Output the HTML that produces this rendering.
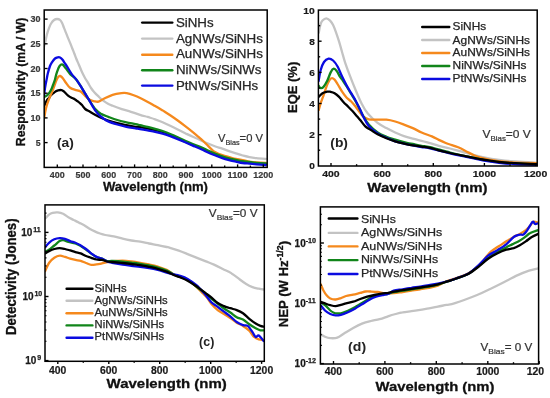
<!DOCTYPE html>
<html><head><meta charset="utf-8"><title>Photodetector performance</title>
<style>html,body{margin:0;padding:0;background:#fff;width:550px;height:398px;overflow:hidden;font-family:"Liberation Sans",sans-serif}svg{display:block;filter:blur(0.55px)}</style>
</head><body>
<svg width="550" height="398" viewBox="0 0 550 398" font-family="Liberation Sans, sans-serif">
<rect width="550" height="398" fill="#fff"/>
<defs><clipPath id="ca"><rect x="44.2" y="10" width="223" height="157.4"/></clipPath><clipPath id="cb"><rect x="318.4" y="10.1" width="218.8" height="156"/></clipPath><clipPath id="cc"><rect x="45" y="204.9" width="219.3" height="156.4"/></clipPath><clipPath id="cd"><rect x="320.4" y="206.9" width="218" height="157.1"/></clipPath></defs>
<path d="M44.2,106.0 C44.7,105.0 46.2,101.3 47.0,100.0 C47.8,98.7 48.3,98.8 49.0,98.0 C49.7,97.2 50.2,95.8 51.0,95.0 C51.8,94.2 52.9,93.6 53.6,93.0 C54.4,92.4 54.8,91.8 55.5,91.4 C56.2,91.0 57.3,90.6 58.1,90.4 C58.9,90.2 59.9,90.0 60.5,90.0 C61.1,90.0 61.4,90.0 62.0,90.3 C62.6,90.6 63.1,90.7 64.1,91.6 C65.1,92.5 66.8,94.5 68.1,95.6 C69.4,96.7 71.1,97.5 72.2,98.1 C73.3,98.7 73.9,98.7 74.7,99.2 C75.5,99.7 76.5,100.5 77.2,101.1 C78.0,101.6 78.4,101.8 79.2,102.5 C80.0,103.2 81.0,104.0 82.0,105.1 C83.0,106.2 83.9,107.9 85.2,109.0 C86.5,110.1 88.3,110.8 90.0,111.8 C91.7,112.8 93.7,114.0 95.5,115.0 C97.3,116.0 98.8,116.8 100.9,117.7 C103.0,118.6 105.5,119.6 108.2,120.5 C110.9,121.4 114.3,122.4 117.3,123.2 C120.3,124.0 123.4,124.6 126.4,125.2 C129.4,125.8 133.2,126.5 135.5,126.8 C137.8,127.1 136.7,126.7 140.0,127.2 C143.3,127.7 151.3,129.2 155.1,130.0 C158.9,130.8 160.1,131.2 162.6,132.0 C165.1,132.8 167.7,134.0 170.2,135.0 C172.7,136.0 175.2,137.1 177.7,138.2 C180.2,139.3 182.7,140.7 185.2,141.8 C187.7,142.9 190.0,143.9 192.8,145.0 C195.6,146.1 199.2,147.2 201.8,148.3 C204.4,149.4 206.3,150.6 208.6,151.6 C210.9,152.6 213.2,153.6 215.5,154.5 C217.8,155.4 220.0,156.4 222.3,157.2 C224.6,158.0 226.8,158.6 229.1,159.2 C231.4,159.8 233.6,160.2 235.9,160.7 C238.2,161.2 240.4,161.7 242.7,162.0 C245.0,162.3 247.2,162.5 249.5,162.7 C251.8,162.9 253.7,163.2 256.4,163.4 C259.1,163.6 264.3,163.9 265.9,164.0" fill="none" stroke="#000000" stroke-width="2.3" stroke-linejoin="round" stroke-linecap="round" clip-path="url(#ca)"/>
<path d="M44.2,46.0 C44.4,45.2 45.0,43.0 45.5,41.0 C46.0,39.0 46.4,36.2 47.0,34.1 C47.6,32.0 48.3,29.9 49.0,28.1 C49.7,26.3 50.2,24.9 51.1,23.5 C52.0,22.1 53.1,20.8 54.1,20.0 C55.1,19.2 56.1,19.0 57.1,19.0 C58.1,19.0 59.3,19.3 60.1,20.0 C60.9,20.7 61.4,21.6 62.1,23.0 C62.8,24.4 63.4,26.4 64.1,28.1 C64.8,29.8 65.4,31.4 66.1,33.1 C66.8,34.8 67.4,36.4 68.1,38.1 C68.8,39.8 69.5,41.4 70.2,43.1 C70.9,44.8 71.5,46.5 72.2,48.2 C72.9,49.9 73.5,51.5 74.2,53.2 C74.9,54.9 75.4,56.5 76.2,58.5 C77.0,60.5 78.0,62.6 79.0,65.0 C80.0,67.3 81.2,70.4 82.2,72.6 C83.2,74.8 84.0,76.2 85.0,78.0 C86.0,79.8 87.2,81.5 88.2,83.2 C89.2,84.9 90.0,86.5 91.0,88.0 C92.0,89.5 93.0,90.8 94.3,92.2 C95.6,93.7 97.2,95.2 98.8,96.7 C100.3,98.2 102.1,99.7 103.6,100.9 C105.1,102.1 106.5,103.0 108.0,103.8 C109.5,104.6 110.4,104.9 112.7,105.8 C115.0,106.7 118.8,108.1 121.8,109.1 C124.8,110.1 127.9,110.8 130.9,111.8 C133.9,112.8 137.2,113.9 140.0,114.8 C142.8,115.7 145.0,116.2 147.5,116.9 C150.0,117.7 152.6,118.4 155.1,119.3 C157.6,120.2 160.1,121.1 162.6,122.2 C165.1,123.3 167.7,124.5 170.2,125.7 C172.7,126.9 175.2,128.2 177.7,129.5 C180.2,130.8 182.7,132.0 185.2,133.2 C187.7,134.4 190.3,135.7 192.8,136.8 C195.3,137.9 197.4,138.8 200.0,140.0 C202.6,141.2 206.0,142.7 208.6,143.8 C211.2,144.9 213.2,145.7 215.5,146.5 C217.8,147.3 220.0,147.8 222.3,148.6 C224.6,149.4 226.8,150.3 229.1,151.1 C231.4,151.9 233.6,152.7 235.9,153.4 C238.2,154.1 240.4,154.9 242.7,155.5 C245.0,156.1 247.2,156.7 249.5,157.1 C251.8,157.5 253.7,157.9 256.4,158.2 C259.1,158.5 264.3,158.8 265.9,158.9" fill="none" stroke="#c3c3c3" stroke-width="2.3" stroke-linejoin="round" stroke-linecap="round" clip-path="url(#ca)"/>
<path d="M44.2,118.2 C44.5,116.5 45.2,111.3 46.0,108.1 C46.8,104.9 48.0,101.8 49.0,99.1 C50.0,96.4 51.0,94.6 52.0,92.1 C53.0,89.6 54.2,86.2 55.0,84.0 C55.8,81.8 56.4,80.3 57.0,79.0 C57.6,77.7 58.3,76.9 58.8,76.4 C59.3,75.9 59.4,75.7 60.0,75.9 C60.6,76.2 61.6,76.7 62.6,77.9 C63.6,79.1 64.8,81.3 66.1,83.0 C67.3,84.7 68.6,86.7 70.1,87.8 C71.6,88.9 73.4,89.2 75.2,89.8 C77.0,90.4 79.0,90.5 80.7,91.5 C82.4,92.5 83.7,94.6 85.2,96.0 C86.7,97.4 88.3,98.9 89.8,99.8 C91.3,100.7 92.8,101.0 94.3,101.3 C95.8,101.6 96.9,102.0 98.5,101.6 C100.1,101.2 101.5,99.8 103.8,98.7 C106.1,97.6 109.7,95.7 112.6,94.8 C115.5,93.9 119.1,93.4 121.4,93.1 C123.8,92.8 124.7,92.8 126.7,93.1 C128.8,93.4 131.4,94.3 133.7,95.2 C136.0,96.1 138.3,97.1 140.7,98.2 C143.0,99.3 145.4,100.6 147.8,101.9 C150.2,103.2 152.6,104.6 155.1,106.0 C157.6,107.4 160.1,108.9 162.6,110.4 C165.1,112.0 167.7,113.6 170.2,115.3 C172.7,117.0 175.2,118.7 177.7,120.5 C180.2,122.3 182.7,124.2 185.2,126.1 C187.7,128.0 190.5,130.2 192.8,132.1 C195.1,134.0 197.4,135.9 199.1,137.4 C200.8,138.9 201.8,139.7 203.2,141.0 C204.6,142.3 205.9,143.6 207.3,145.0 C208.7,146.4 210.0,148.0 211.4,149.2 C212.8,150.4 213.7,151.3 215.5,152.3 C217.3,153.3 220.0,154.4 222.3,155.2 C224.6,156.0 226.8,156.5 229.1,157.1 C231.4,157.7 233.6,158.4 235.9,158.9 C238.2,159.4 240.4,159.8 242.7,160.2 C245.0,160.6 247.2,161.2 249.5,161.6 C251.8,161.9 253.7,162.1 256.4,162.3 C259.1,162.5 264.3,162.9 265.9,163.0" fill="none" stroke="#f5891d" stroke-width="2.3" stroke-linejoin="round" stroke-linecap="round" clip-path="url(#ca)"/>
<path d="M44.2,96.7 C44.4,96.7 44.9,96.8 45.5,96.4 C46.1,96.1 47.1,95.7 48.0,94.6 C48.9,93.5 50.2,91.6 51.0,90.0 C51.8,88.4 52.3,86.8 53.0,85.0 C53.7,83.2 54.4,81.6 55.0,79.5 C55.6,77.4 56.0,74.8 56.8,72.6 C57.6,70.3 58.6,67.3 59.6,66.0 C60.6,64.7 61.6,64.2 62.6,64.6 C63.6,64.9 64.3,66.5 65.6,68.1 C66.9,69.7 68.7,72.5 70.2,74.1 C71.7,75.7 73.4,76.6 74.7,77.9 C76.0,79.2 77.0,80.6 78.0,82.0 C79.0,83.4 79.5,84.2 80.7,86.2 C81.9,88.2 83.7,91.2 85.2,93.7 C86.7,96.2 88.1,98.6 89.8,101.2 C91.5,103.8 93.7,107.2 95.5,109.3 C97.3,111.4 98.8,112.5 100.9,113.8 C103.0,115.0 105.5,115.8 108.2,116.8 C110.9,117.8 114.3,119.1 117.3,120.0 C120.3,120.9 123.4,121.6 126.4,122.3 C129.4,123.0 133.2,123.6 135.5,124.1 C137.8,124.6 138.0,124.7 140.0,125.2 C142.0,125.7 145.0,126.3 147.5,126.9 C150.0,127.5 152.6,128.1 155.1,128.8 C157.6,129.5 160.1,130.1 162.6,131.0 C165.1,131.9 167.7,132.9 170.2,134.0 C172.7,135.1 175.2,136.2 177.7,137.3 C180.2,138.4 182.7,139.7 185.2,140.8 C187.7,141.9 190.0,142.9 192.8,144.0 C195.6,145.1 199.2,146.4 201.8,147.5 C204.4,148.6 206.3,149.8 208.6,150.8 C210.9,151.8 213.2,152.8 215.5,153.7 C217.8,154.6 220.0,155.5 222.3,156.3 C224.6,157.1 226.8,157.7 229.1,158.3 C231.4,158.9 233.6,159.3 235.9,159.8 C238.2,160.3 240.4,160.8 242.7,161.2 C245.0,161.6 247.2,161.7 249.5,162.0 C251.8,162.3 253.7,162.6 256.4,162.8 C259.1,163.0 264.3,163.3 265.9,163.4" fill="none" stroke="#11851a" stroke-width="2.3" stroke-linejoin="round" stroke-linecap="round" clip-path="url(#ca)"/>
<path d="M44.2,95.0 C44.3,93.8 44.6,90.5 45.0,88.0 C45.4,85.5 46.0,82.4 46.5,80.0 C47.0,77.6 47.2,75.8 47.8,73.5 C48.4,71.2 49.3,67.9 50.0,66.0 C50.7,64.1 51.3,63.4 52.1,62.1 C52.9,60.9 54.0,59.3 55.0,58.5 C56.0,57.7 57.3,57.5 58.1,57.3 C58.9,57.1 59.2,57.1 60.0,57.5 C60.8,57.9 61.8,58.8 62.6,59.8 C63.4,60.8 64.2,62.4 65.0,63.5 C65.8,64.6 66.0,64.8 67.1,66.6 C68.2,68.4 70.2,72.0 71.7,74.1 C73.2,76.2 74.7,77.4 76.2,79.4 C77.7,81.4 79.2,83.8 80.7,86.2 C82.2,88.6 83.7,91.2 85.2,93.7 C86.7,96.2 88.5,99.2 89.8,101.3 C91.0,103.4 91.8,104.8 92.7,106.4 C93.7,108.0 94.4,109.5 95.5,110.9 C96.6,112.3 97.8,113.7 99.1,115.0 C100.4,116.3 102.1,117.5 103.6,118.6 C105.1,119.7 105.9,120.4 108.2,121.4 C110.5,122.4 114.3,123.6 117.3,124.5 C120.3,125.4 123.4,126.2 126.4,126.8 C129.4,127.4 133.2,127.9 135.5,128.3 C137.8,128.7 138.0,128.8 140.0,129.1 C142.0,129.4 145.0,129.9 147.5,130.3 C150.0,130.8 152.6,131.2 155.1,131.8 C157.6,132.4 160.1,133.0 162.6,133.7 C165.1,134.4 167.7,135.3 170.2,136.2 C172.7,137.1 175.2,138.1 177.7,139.1 C180.2,140.1 182.7,141.2 185.2,142.3 C187.7,143.4 190.0,144.4 192.8,145.6 C195.6,146.8 199.2,148.3 201.8,149.5 C204.4,150.7 206.3,151.7 208.6,152.7 C210.9,153.7 213.2,154.6 215.5,155.5 C217.8,156.4 220.0,157.4 222.3,158.2 C224.6,159.0 226.8,159.6 229.1,160.2 C231.4,160.8 233.6,161.1 235.9,161.6 C238.2,162.1 240.4,162.7 242.7,163.0 C245.0,163.3 247.2,163.4 249.5,163.6 C251.8,163.8 253.7,164.1 256.4,164.3 C259.1,164.5 264.3,164.9 265.9,165.0" fill="none" stroke="#0b0be0" stroke-width="2.3" stroke-linejoin="round" stroke-linecap="round" clip-path="url(#ca)"/>
<path d="M318.8,32.6 C319.1,31.4 319.7,27.1 320.3,25.1 C320.9,23.1 321.5,21.7 322.5,20.6 C323.5,19.5 325.0,18.3 326.3,18.3 C327.6,18.3 329.0,19.5 330.1,20.6 C331.2,21.7 332.1,23.1 333.1,25.1 C334.1,27.1 335.1,29.8 336.1,32.6 C337.1,35.4 338.1,38.4 339.1,41.7 C340.1,45.0 341.1,48.7 342.1,52.2 C343.1,55.7 343.9,59.0 345.2,62.8 C346.5,66.6 347.9,70.5 349.7,75.1 C351.4,79.7 353.7,85.4 355.7,90.2 C357.7,95.0 359.7,99.8 361.7,103.7 C363.7,107.6 365.1,110.3 367.8,113.5 C370.5,116.7 374.5,120.5 377.6,122.9 C380.7,125.3 383.5,126.5 386.4,128.1 C389.3,129.7 392.3,131.2 395.2,132.5 C398.1,133.8 401.1,135.1 404.0,136.1 C406.9,137.1 409.9,137.9 412.8,138.7 C415.7,139.5 418.7,140.1 421.6,140.8 C424.5,141.5 427.1,142.3 430.0,143.1 C432.9,143.9 435.5,144.9 438.8,145.8 C442.1,146.7 445.4,147.3 450.0,148.5 C454.6,149.7 460.9,151.6 466.4,153.0 C471.8,154.4 477.2,155.9 482.7,157.1 C488.1,158.2 493.6,159.2 499.1,159.9 C504.6,160.6 509.2,161.0 515.5,161.5 C521.8,162.0 533.2,162.6 536.7,162.8" fill="none" stroke="#c3c3c3" stroke-width="2.3" stroke-linejoin="round" stroke-linecap="round" clip-path="url(#cb)"/>
<path d="M318.8,109.8 C319.2,108.5 320.2,104.5 321.0,102.2 C321.8,99.9 322.4,98.7 323.3,96.2 C324.2,93.7 325.3,89.7 326.3,87.1 C327.3,84.5 328.4,82.0 329.3,80.5 C330.2,79.0 330.7,78.2 331.6,78.1 C332.5,77.9 333.6,78.6 334.6,79.6 C335.6,80.6 336.4,82.1 337.6,84.1 C338.9,86.1 340.6,89.4 342.1,91.7 C343.6,94.0 345.2,96.1 346.7,97.7 C348.2,99.3 349.7,100.0 351.2,101.5 C352.7,103.0 354.2,104.8 355.7,106.7 C357.2,108.6 358.9,111.1 360.2,112.8 C361.5,114.5 362.1,115.6 363.5,116.7 C364.9,117.8 366.4,118.8 368.8,119.3 C371.2,119.8 374.7,119.6 377.6,119.7 C380.5,119.8 383.5,119.4 386.4,119.7 C389.3,120.0 392.3,120.7 395.2,121.5 C398.1,122.3 401.1,123.5 404.0,124.6 C406.9,125.7 409.9,126.8 412.8,128.1 C415.7,129.4 418.4,131.1 421.6,132.5 C424.8,133.9 429.0,135.2 431.9,136.4 C434.8,137.6 436.5,138.8 438.8,139.9 C441.1,141.0 443.8,142.2 445.7,143.0 C447.6,143.8 447.9,143.8 450.0,144.5 C452.1,145.2 455.5,146.2 458.2,147.3 C460.9,148.5 463.7,150.0 466.4,151.4 C469.1,152.8 471.8,154.4 474.5,155.5 C477.2,156.6 480.0,157.5 482.7,158.2 C485.4,158.9 488.2,159.4 490.9,159.9 C493.6,160.4 496.4,160.8 499.1,161.2 C501.8,161.5 504.6,161.8 507.3,162.0 C510.0,162.2 510.6,162.4 515.5,162.6 C520.4,162.8 533.2,163.1 536.7,163.2" fill="none" stroke="#f5891d" stroke-width="2.3" stroke-linejoin="round" stroke-linecap="round" clip-path="url(#cb)"/>
<path d="M318.6,85.6 C318.9,86.0 319.5,87.7 320.3,87.9 C321.1,88.2 322.2,88.2 323.3,87.1 C324.4,86.0 325.9,83.6 327.1,81.1 C328.4,78.6 329.7,74.2 330.8,72.1 C331.9,70.0 332.8,68.8 333.8,68.7 C334.8,68.6 335.9,70.0 336.9,71.3 C337.9,72.6 339.0,75.2 339.9,76.6 C340.8,78.0 341.0,77.8 342.1,79.5 C343.2,81.2 345.2,84.1 346.7,86.5 C348.2,88.9 349.7,91.5 351.2,94.0 C352.7,96.5 354.2,98.8 355.7,101.5 C357.2,104.2 358.9,107.5 360.2,110.0 C361.5,112.5 362.1,114.1 363.5,116.5 C364.9,118.9 366.4,121.8 368.8,124.5 C371.2,127.2 374.7,130.4 377.6,132.5 C380.5,134.6 383.5,135.6 386.4,136.8 C389.3,138.0 392.3,138.7 395.2,139.6 C398.1,140.5 401.1,141.3 404.0,142.0 C406.9,142.7 409.9,143.4 412.8,144.0 C415.7,144.6 418.7,145.3 421.6,145.8 C424.5,146.3 425.3,146.0 430.0,147.1 C434.7,148.2 443.9,151.0 450.0,152.5 C456.1,154.0 460.9,155.1 466.4,156.3 C471.8,157.5 477.2,158.8 482.7,159.8 C488.1,160.8 493.6,161.6 499.1,162.2 C504.6,162.8 509.2,163.2 515.5,163.5 C521.8,163.8 533.2,164.2 536.7,164.3" fill="none" stroke="#11851a" stroke-width="2.3" stroke-linejoin="round" stroke-linecap="round" clip-path="url(#cb)"/>
<path d="M318.6,81.0 C319.0,79.2 319.8,73.2 320.7,70.0 C321.6,66.8 322.7,63.9 324.0,62.0 C325.3,60.1 327.1,58.9 328.6,58.6 C330.1,58.4 331.6,59.2 333.1,60.5 C334.6,61.8 336.1,63.8 337.6,66.5 C339.1,69.2 340.6,73.4 342.1,76.6 C343.6,79.8 345.2,82.8 346.7,85.6 C348.2,88.4 349.7,90.7 351.2,93.2 C352.7,95.7 354.2,97.9 355.7,100.7 C357.2,103.5 358.9,107.1 360.2,109.8 C361.5,112.5 362.1,114.3 363.5,117.0 C364.9,119.7 366.4,123.3 368.8,126.0 C371.2,128.7 374.7,131.4 377.6,133.4 C380.5,135.4 383.5,136.5 386.4,137.8 C389.3,139.1 392.3,140.3 395.2,141.3 C398.1,142.3 401.1,142.9 404.0,143.6 C406.9,144.3 409.9,144.8 412.8,145.4 C415.7,146.0 418.7,146.6 421.6,147.1 C424.5,147.6 425.3,147.3 430.0,148.4 C434.7,149.5 443.9,152.0 450.0,153.4 C456.1,154.8 460.9,155.8 466.4,157.0 C471.8,158.2 477.2,159.4 482.7,160.4 C488.1,161.4 493.6,162.2 499.1,162.8 C504.6,163.4 509.2,163.8 515.5,164.1 C521.8,164.4 533.2,164.7 536.7,164.8" fill="none" stroke="#0b0be0" stroke-width="2.3" stroke-linejoin="round" stroke-linecap="round" clip-path="url(#cb)"/>
<path d="M318.6,97.0 C319.2,96.4 321.1,94.1 322.5,93.2 C323.9,92.3 325.8,92.0 327.1,91.7 C328.4,91.5 328.9,91.5 330.1,91.7 C331.4,92.0 333.1,92.3 334.6,93.2 C336.1,94.1 337.6,95.4 339.1,96.9 C340.6,98.4 342.1,100.6 343.6,102.2 C345.1,103.8 346.7,105.2 348.2,106.7 C349.7,108.2 351.2,109.7 352.7,111.3 C354.2,112.9 355.9,115.0 357.2,116.5 C358.4,118.0 358.8,118.3 360.2,120.0 C361.6,121.7 363.6,124.8 365.3,126.4 C367.0,128.1 368.6,128.6 370.6,129.9 C372.7,131.2 375.0,132.9 377.6,134.3 C380.2,135.7 383.5,137.1 386.4,138.3 C389.3,139.5 392.3,140.4 395.2,141.3 C398.1,142.2 401.1,142.9 404.0,143.6 C406.9,144.3 409.9,144.9 412.8,145.4 C415.7,145.9 418.7,146.2 421.6,146.6 C424.5,147.0 427.1,147.2 430.0,147.8 C432.9,148.4 435.5,149.4 438.8,150.3 C442.1,151.2 445.4,152.0 450.0,153.0 C454.6,154.0 460.9,155.2 466.4,156.3 C471.8,157.4 477.2,158.6 482.7,159.5 C488.1,160.4 493.6,161.4 499.1,162.0 C504.6,162.6 509.2,162.8 515.5,163.2 C521.8,163.5 533.2,163.9 536.7,164.1" fill="none" stroke="#000000" stroke-width="2.3" stroke-linejoin="round" stroke-linecap="round" clip-path="url(#cb)"/>
<path d="M45.5,218.2 C46.1,217.6 47.8,215.6 49.0,214.7 C50.2,213.8 51.1,213.3 52.6,212.9 C54.1,212.5 56.0,212.2 57.8,212.4 C59.5,212.6 61.3,213.0 63.1,213.8 C64.9,214.6 66.6,216.3 68.4,217.3 C70.2,218.3 72.0,219.1 73.7,220.0 C75.5,220.9 77.2,221.7 78.9,222.6 C80.7,223.5 82.4,224.2 84.2,225.2 C86.0,226.2 87.7,227.7 89.5,228.7 C91.3,229.7 93.0,230.6 94.8,231.4 C96.5,232.2 98.2,232.9 100.0,233.5 C101.8,234.1 103.0,234.5 105.3,235.0 C107.6,235.5 110.9,235.8 113.8,236.4 C116.7,237.0 119.7,238.0 122.6,238.7 C125.5,239.4 128.5,240.0 131.4,240.5 C134.3,241.0 137.3,241.2 140.2,241.7 C143.1,242.2 146.1,242.9 149.0,243.5 C151.9,244.1 154.9,244.6 157.8,245.2 C160.7,245.8 164.6,246.6 166.6,247.0 C168.6,247.4 168.0,247.2 170.0,247.8 C172.0,248.4 175.9,249.6 178.8,250.6 C181.7,251.6 184.7,252.9 187.6,254.1 C190.5,255.3 193.5,256.4 196.4,257.6 C199.3,258.8 202.3,259.9 205.2,261.1 C208.1,262.3 211.1,263.3 214.0,264.6 C216.9,265.9 219.9,267.5 222.8,269.0 C225.7,270.5 228.8,271.6 231.6,273.4 C234.4,275.1 237.4,277.7 239.8,279.5 C242.2,281.3 244.1,282.7 246.2,284.0 C248.3,285.3 250.4,286.3 252.5,287.1 C254.6,287.9 256.9,288.3 258.8,288.7 C260.7,289.1 262.8,289.4 263.6,289.5" fill="none" stroke="#c3c3c3" stroke-width="2.3" stroke-linejoin="round" stroke-linecap="round" clip-path="url(#cc)"/>
<path d="M45.2,271.0 C45.8,269.7 47.5,265.2 49.0,263.0 C50.5,260.8 52.5,259.0 54.3,257.8 C56.1,256.6 57.8,255.8 59.6,255.7 C61.4,255.5 63.2,256.4 64.9,256.9 C66.7,257.4 68.3,258.1 70.1,258.6 C71.8,259.1 73.6,259.5 75.4,259.9 C77.2,260.3 78.9,260.4 80.7,260.9 C82.5,261.4 84.2,262.4 86.0,263.0 C87.8,263.6 89.5,264.6 91.2,264.8 C93.0,265.0 94.7,264.6 96.5,264.4 C98.3,264.2 100.0,263.8 101.8,263.4 C103.6,263.0 105.4,262.6 107.1,262.2 C108.8,261.8 109.4,261.5 112.0,261.2 C114.6,260.9 119.4,260.6 122.6,260.6 C125.8,260.6 128.5,261.0 131.4,261.4 C134.3,261.8 137.3,262.3 140.2,262.8 C143.1,263.3 146.1,263.9 149.0,264.5 C151.9,265.1 154.9,265.7 157.8,266.6 C160.7,267.5 163.7,268.4 166.6,269.8 C169.5,271.2 171.5,273.4 175.0,275.1 C178.5,276.8 184.0,277.8 187.6,279.8 C191.2,281.8 193.8,284.7 196.4,287.0 C199.0,289.3 201.2,291.8 203.0,293.5 C204.8,295.2 205.6,295.8 207.0,297.5 C208.4,299.2 209.5,301.6 211.3,303.7 C213.1,305.8 215.6,308.4 217.7,310.1 C219.8,311.8 221.9,312.7 224.0,314.0 C226.1,315.3 228.2,316.6 230.3,318.0 C232.4,319.4 234.6,321.4 236.7,322.7 C238.8,324.0 240.9,324.6 243.0,325.9 C245.1,327.2 247.5,328.8 249.3,330.7 C251.2,332.6 252.5,335.6 254.1,337.0 C255.7,338.4 257.2,338.9 258.8,339.4 C260.4,339.9 262.8,339.7 263.6,339.8" fill="none" stroke="#f5891d" stroke-width="2.3" stroke-linejoin="round" stroke-linecap="round" clip-path="url(#cc)"/>
<path d="M45.2,251.6 C45.8,251.3 47.5,250.8 49.0,249.8 C50.5,248.8 52.5,246.9 54.3,245.5 C56.1,244.1 58.1,242.0 59.6,241.1 C61.1,240.2 61.6,240.1 63.1,240.2 C64.6,240.3 66.4,241.3 68.4,241.9 C70.5,242.5 73.4,242.8 75.4,243.5 C77.5,244.2 78.9,245.0 80.7,246.0 C82.5,247.0 84.2,248.2 86.0,249.5 C87.8,250.8 89.5,252.3 91.2,253.6 C93.0,254.8 94.7,256.2 96.5,257.0 C98.3,257.8 100.0,257.9 101.8,258.6 C103.6,259.3 105.4,260.6 107.1,261.0 C108.8,261.4 109.4,260.9 112.0,261.0 C114.6,261.1 119.4,261.3 122.6,261.6 C125.8,261.9 128.5,262.2 131.4,262.6 C134.3,263.0 137.3,263.3 140.2,263.8 C143.1,264.3 146.1,264.9 149.0,265.5 C151.9,266.1 154.9,266.7 157.8,267.5 C160.7,268.3 163.7,269.2 166.6,270.5 C169.5,271.8 171.5,273.4 175.0,275.0 C178.5,276.6 184.0,277.9 187.6,279.8 C191.2,281.7 193.5,284.4 196.4,286.6 C199.3,288.8 202.5,291.2 205.0,293.2 C207.5,295.2 209.2,296.8 211.3,298.5 C213.4,300.2 215.6,301.8 217.7,303.5 C219.8,305.2 221.9,307.0 224.0,308.5 C226.1,310.0 228.2,311.1 230.3,312.5 C232.4,313.9 234.6,316.0 236.7,317.2 C238.8,318.4 240.9,318.4 243.0,319.6 C245.1,320.8 247.2,322.9 249.3,324.3 C251.4,325.8 253.8,327.3 255.7,328.3 C257.5,329.3 259.1,330.0 260.4,330.3 C261.7,330.6 263.1,330.3 263.6,330.3" fill="none" stroke="#11851a" stroke-width="2.3" stroke-linejoin="round" stroke-linecap="round" clip-path="url(#cc)"/>
<path d="M45.2,247.2 C45.8,246.5 47.5,244.1 49.0,242.8 C50.5,241.5 52.5,240.1 54.3,239.3 C56.1,238.5 57.8,238.2 59.6,238.1 C61.4,238.0 63.2,238.3 64.9,238.8 C66.7,239.3 68.3,240.4 70.1,241.1 C71.8,241.8 73.6,242.1 75.4,242.8 C77.2,243.5 78.9,244.5 80.7,245.5 C82.5,246.5 84.2,247.7 86.0,249.0 C87.8,250.3 89.5,252.1 91.2,253.4 C93.0,254.7 94.7,256.0 96.5,256.9 C98.3,257.8 100.0,257.8 101.8,258.6 C103.6,259.4 105.4,260.8 107.1,261.5 C108.8,262.2 109.4,262.3 112.0,262.8 C114.6,263.3 119.4,264.1 122.6,264.6 C125.8,265.1 128.5,265.4 131.4,265.8 C134.3,266.2 137.3,266.4 140.2,266.8 C143.1,267.2 146.1,267.7 149.0,268.2 C151.9,268.7 154.9,269.3 157.8,270.0 C160.7,270.7 163.7,271.8 166.6,272.6 C169.5,273.4 172.8,274.1 175.0,274.6 C177.2,275.1 177.9,275.1 180.0,275.8 C182.1,276.5 184.9,277.4 187.6,279.0 C190.3,280.6 193.5,282.7 196.4,285.2 C199.3,287.7 202.5,291.4 205.0,294.2 C207.5,297.0 209.2,300.1 211.3,302.2 C213.4,304.3 215.6,305.3 217.7,306.9 C219.8,308.5 221.9,310.1 224.0,311.7 C226.1,313.3 228.2,314.7 230.3,316.4 C232.4,318.1 234.6,320.6 236.7,322.0 C238.8,323.4 241.2,324.5 243.0,325.1 C244.8,325.8 246.1,324.7 247.7,325.9 C249.3,327.1 251.2,330.3 252.5,332.2 C253.8,334.1 254.6,336.5 255.7,337.0 C256.8,337.5 257.5,334.7 258.8,335.4 C260.1,336.1 262.8,340.1 263.6,341.0" fill="none" stroke="#0b0be0" stroke-width="2.3" stroke-linejoin="round" stroke-linecap="round" clip-path="url(#cc)"/>
<path d="M45.2,253.4 C45.8,253.0 47.5,251.8 49.0,251.1 C50.5,250.4 52.5,249.5 54.3,249.0 C56.1,248.5 57.8,248.1 59.6,248.1 C61.4,248.1 63.2,248.6 64.9,249.0 C66.7,249.4 68.3,249.9 70.1,250.4 C71.8,250.9 73.6,251.6 75.4,252.1 C77.2,252.6 78.9,252.8 80.7,253.4 C82.5,254.1 84.2,255.3 86.0,256.0 C87.8,256.7 89.5,257.2 91.2,257.8 C93.0,258.4 94.7,259.1 96.5,259.5 C98.3,259.9 100.0,259.6 101.8,259.9 C103.6,260.2 105.4,261.1 107.1,261.5 C108.8,261.9 109.4,261.8 112.0,262.0 C114.6,262.2 119.4,262.7 122.6,263.0 C125.8,263.3 128.5,263.6 131.4,264.0 C134.3,264.4 137.3,264.7 140.2,265.2 C143.1,265.7 146.1,266.2 149.0,266.8 C151.9,267.4 154.9,268.0 157.8,268.8 C160.7,269.6 163.7,270.5 166.6,271.6 C169.5,272.7 172.8,274.6 175.0,275.5 C177.2,276.4 177.9,276.3 180.0,277.2 C182.1,278.1 184.9,279.2 187.6,280.7 C190.3,282.2 193.5,284.2 196.4,286.2 C199.3,288.2 202.5,290.8 205.0,292.7 C207.5,294.6 209.2,295.7 211.3,297.4 C213.4,299.1 215.6,301.6 217.7,303.0 C219.8,304.4 221.9,305.2 224.0,306.1 C226.1,307.0 228.2,307.5 230.3,308.2 C232.4,308.9 234.6,309.3 236.7,310.1 C238.8,310.9 240.9,311.8 243.0,313.2 C245.1,314.6 247.2,317.1 249.3,318.8 C251.4,320.5 253.8,322.3 255.7,323.5 C257.5,324.7 259.1,325.4 260.4,325.9 C261.7,326.4 263.1,326.6 263.6,326.7" fill="none" stroke="#000000" stroke-width="2.3" stroke-linejoin="round" stroke-linecap="round" clip-path="url(#cc)"/>
<path d="M320.6,334.2 C321.3,334.6 323.4,336.1 325.0,336.8 C326.6,337.5 328.2,338.1 330.3,338.2 C332.4,338.3 335.0,338.5 337.3,337.7 C339.6,336.9 341.8,334.9 344.4,333.3 C347.0,331.7 350.3,329.6 353.2,328.0 C356.1,326.4 359.1,324.8 362.0,323.6 C364.9,322.4 367.9,321.7 370.8,321.0 C373.7,320.3 376.7,320.0 379.6,319.2 C382.5,318.4 385.6,317.1 388.0,316.3 C390.4,315.5 391.4,315.1 393.8,314.5 C396.2,313.9 399.7,312.9 402.6,312.4 C405.5,311.8 408.5,311.6 411.4,311.2 C414.3,310.8 417.3,310.3 420.2,309.8 C423.1,309.3 426.1,308.9 429.0,308.4 C431.9,307.9 434.9,307.2 437.8,306.6 C440.7,306.0 443.7,305.5 446.6,304.9 C449.5,304.3 449.9,304.8 455.0,303.1 C460.1,301.5 471.2,297.4 477.1,295.0 C483.1,292.6 486.2,290.9 490.7,288.7 C495.2,286.5 499.8,284.2 504.3,281.9 C508.8,279.6 513.7,277.0 517.8,275.1 C521.9,273.2 525.7,271.7 529.1,270.6 C532.5,269.5 536.7,268.7 538.2,268.3" fill="none" stroke="#c3c3c3" stroke-width="2.3" stroke-linejoin="round" stroke-linecap="round" clip-path="url(#cd)"/>
<path d="M320.6,284.1 C321.1,285.1 322.3,288.3 323.3,290.2 C324.3,292.1 325.6,294.1 326.8,295.5 C328.0,296.9 328.8,297.8 330.3,298.5 C331.8,299.2 333.8,299.6 335.6,299.5 C337.4,299.4 339.1,298.7 340.9,298.1 C342.6,297.5 344.1,296.6 346.1,296.0 C348.2,295.4 350.9,295.1 353.2,294.6 C355.5,294.1 358.1,293.4 360.2,292.9 C362.2,292.4 363.7,291.7 365.5,291.5 C367.3,291.3 368.8,291.4 370.8,291.5 C372.9,291.6 375.4,291.7 377.8,292.0 C380.2,292.3 382.3,293.1 385.0,293.3 C387.7,293.5 390.9,293.4 393.8,293.2 C396.7,293.0 399.7,292.4 402.6,292.0 C405.5,291.6 408.5,291.1 411.4,290.6 C414.3,290.2 417.3,289.8 420.2,289.3 C423.1,288.9 426.1,288.5 429.0,287.9 C431.9,287.3 434.9,286.7 437.8,285.6 C440.7,284.5 443.7,282.4 446.6,281.2 C449.5,280.0 451.4,279.8 455.0,278.5 C458.6,277.2 464.4,275.4 468.1,273.5 C471.8,271.6 474.5,269.2 477.1,267.0 C479.7,264.8 481.5,262.6 483.6,260.2 C485.7,257.8 487.6,254.7 489.6,252.7 C491.6,250.7 493.6,249.6 495.6,248.2 C497.6,246.8 499.7,245.7 501.7,244.4 C503.7,243.1 505.7,241.8 507.7,240.6 C509.7,239.3 511.7,238.0 513.7,236.9 C515.7,235.8 517.8,235.0 519.8,233.9 C521.8,232.8 524.0,231.5 525.8,230.1 C527.5,228.7 529.0,227.0 530.3,225.6 C531.5,224.2 532.0,222.3 533.3,221.8 C534.6,221.3 537.4,222.4 538.2,222.5" fill="none" stroke="#f5891d" stroke-width="2.3" stroke-linejoin="round" stroke-linecap="round" clip-path="url(#cd)"/>
<path d="M320.6,302.5 C321.3,302.9 323.4,303.9 325.0,305.2 C326.6,306.5 328.8,309.2 330.3,310.5 C331.8,311.8 332.6,312.2 333.8,312.7 C335.0,313.2 336.1,313.3 337.3,313.4 C338.5,313.5 339.1,313.7 340.9,313.3 C342.7,312.9 345.6,311.8 347.9,310.8 C350.2,309.8 352.5,308.6 354.9,307.3 C357.2,306.0 359.6,304.4 362.0,303.0 C364.4,301.6 366.7,299.9 369.0,298.7 C371.3,297.5 373.6,296.4 376.0,295.7 C378.4,294.9 381.1,294.5 383.1,294.2 C385.1,293.9 386.2,294.1 388.0,293.8 C389.8,293.5 391.4,292.6 393.8,292.1 C396.2,291.6 399.7,291.2 402.6,290.7 C405.5,290.2 408.5,289.8 411.4,289.3 C414.3,288.9 417.3,288.4 420.2,288.0 C423.1,287.6 426.1,287.2 429.0,286.6 C431.9,286.1 434.9,285.5 437.8,284.7 C440.7,283.9 443.7,282.6 446.6,281.7 C449.5,280.8 451.4,280.3 455.0,279.0 C458.6,277.7 464.4,276.0 468.1,274.0 C471.8,272.0 473.8,269.8 477.1,267.2 C480.4,264.6 484.7,260.7 488.0,258.2 C491.3,255.7 494.1,253.8 497.1,252.0 C500.1,250.2 503.7,248.7 506.2,247.4 C508.7,246.1 510.2,245.4 512.2,244.4 C514.2,243.4 516.3,242.5 518.3,241.4 C520.3,240.3 522.3,239.0 524.3,237.6 C526.3,236.2 528.0,234.3 530.3,233.1 C532.6,231.8 536.9,230.6 538.2,230.1" fill="none" stroke="#11851a" stroke-width="2.3" stroke-linejoin="round" stroke-linecap="round" clip-path="url(#cd)"/>
<path d="M320.6,305.2 C321.3,306.1 323.4,309.0 325.0,310.5 C326.6,312.0 328.5,313.2 330.3,314.0 C332.1,314.8 333.8,315.3 335.6,315.4 C337.4,315.5 338.8,315.3 340.9,314.8 C342.9,314.3 345.6,313.2 347.9,312.2 C350.2,311.2 352.5,310.0 354.9,308.7 C357.2,307.4 359.6,305.8 362.0,304.3 C364.4,302.8 366.7,301.2 369.0,299.9 C371.3,298.6 373.6,297.5 376.0,296.7 C378.4,295.9 381.1,295.4 383.1,295.0 C385.1,294.6 386.2,294.7 388.0,294.0 C389.8,293.3 391.4,291.5 393.8,290.7 C396.2,289.9 399.7,289.8 402.6,289.3 C405.5,288.8 408.5,288.3 411.4,287.9 C414.3,287.4 417.3,287.1 420.2,286.6 C423.1,286.2 426.1,285.7 429.0,285.2 C431.9,284.7 434.9,284.2 437.8,283.6 C440.7,283.0 443.7,282.3 446.6,281.5 C449.5,280.7 451.4,280.1 455.0,278.8 C458.6,277.5 464.1,276.1 468.1,273.8 C472.1,271.5 475.7,267.8 479.0,264.8 C482.3,261.8 485.1,258.1 488.1,255.7 C491.1,253.3 494.1,252.3 497.1,250.4 C500.1,248.5 503.7,246.4 506.2,244.4 C508.7,242.4 510.7,239.8 512.2,238.4 C513.7,237.0 513.9,236.7 515.2,236.1 C516.5,235.5 518.4,234.8 519.8,234.6 C521.2,234.3 522.2,235.3 523.5,234.6 C524.8,233.8 525.8,232.2 527.3,230.1 C528.8,228.0 531.3,222.8 532.6,221.8 C533.9,220.8 534.0,223.8 534.9,224.0 C535.8,224.2 537.7,223.4 538.2,223.3" fill="none" stroke="#0b0be0" stroke-width="2.3" stroke-linejoin="round" stroke-linecap="round" clip-path="url(#cd)"/>
<path d="M320.6,301.7 C321.3,302.0 323.4,302.8 325.0,303.4 C326.6,304.0 328.5,304.8 330.3,305.2 C332.1,305.6 333.8,306.2 335.6,306.1 C337.4,306.0 339.1,305.2 340.9,304.8 C342.6,304.4 344.1,303.9 346.1,303.4 C348.2,302.9 350.9,302.4 353.2,301.7 C355.5,301.0 357.9,299.8 360.2,299.0 C362.5,298.2 364.8,297.4 367.2,296.7 C369.6,296.0 371.9,295.5 374.3,295.0 C376.7,294.5 379.0,294.1 381.3,293.7 C383.6,293.3 385.9,293.2 388.0,292.9 C390.1,292.5 391.4,292.1 393.8,291.6 C396.2,291.2 399.7,290.7 402.6,290.2 C405.5,289.7 408.5,289.2 411.4,288.8 C414.3,288.4 417.3,287.9 420.2,287.5 C423.1,287.1 426.1,286.6 429.0,286.1 C431.9,285.6 434.9,285.0 437.8,284.3 C440.7,283.6 443.7,282.6 446.6,281.7 C449.5,280.8 451.4,280.3 455.0,279.0 C458.6,277.7 464.1,276.1 468.1,274.0 C472.1,271.9 475.7,268.9 479.0,266.3 C482.3,263.8 485.1,260.8 488.1,258.7 C491.1,256.6 494.1,255.0 497.1,253.5 C500.1,252.0 503.4,250.6 506.2,249.7 C509.0,248.8 511.4,248.9 513.7,248.2 C516.0,247.4 517.8,246.3 519.8,245.2 C521.8,244.1 523.8,242.8 525.8,241.4 C527.8,240.0 529.7,238.2 531.8,236.9 C533.9,235.7 537.1,234.4 538.2,233.9" fill="none" stroke="#000000" stroke-width="2.3" stroke-linejoin="round" stroke-linecap="round" clip-path="url(#cd)"/>
<rect x="44.2" y="10" width="223.0" height="157.4" fill="none" stroke="#000" stroke-width="1.5"/>
<line x1="57.3" y1="167.4" x2="57.3" y2="164.4" stroke="#000" stroke-width="1.35"/>
<line x1="70.2" y1="167.4" x2="70.2" y2="165.6" stroke="#000" stroke-width="1.35"/>
<line x1="83.0" y1="167.4" x2="83.0" y2="164.4" stroke="#000" stroke-width="1.35"/>
<line x1="95.9" y1="167.4" x2="95.9" y2="165.6" stroke="#000" stroke-width="1.35"/>
<line x1="108.8" y1="167.4" x2="108.8" y2="164.4" stroke="#000" stroke-width="1.35"/>
<line x1="121.7" y1="167.4" x2="121.7" y2="165.6" stroke="#000" stroke-width="1.35"/>
<line x1="134.6" y1="167.4" x2="134.6" y2="164.4" stroke="#000" stroke-width="1.35"/>
<line x1="147.4" y1="167.4" x2="147.4" y2="165.6" stroke="#000" stroke-width="1.35"/>
<line x1="160.3" y1="167.4" x2="160.3" y2="164.4" stroke="#000" stroke-width="1.35"/>
<line x1="173.2" y1="167.4" x2="173.2" y2="165.6" stroke="#000" stroke-width="1.35"/>
<line x1="186.1" y1="167.4" x2="186.1" y2="164.4" stroke="#000" stroke-width="1.35"/>
<line x1="198.9" y1="167.4" x2="198.9" y2="165.6" stroke="#000" stroke-width="1.35"/>
<line x1="211.8" y1="167.4" x2="211.8" y2="164.4" stroke="#000" stroke-width="1.35"/>
<line x1="224.7" y1="167.4" x2="224.7" y2="165.6" stroke="#000" stroke-width="1.35"/>
<line x1="237.6" y1="167.4" x2="237.6" y2="164.4" stroke="#000" stroke-width="1.35"/>
<line x1="250.4" y1="167.4" x2="250.4" y2="165.6" stroke="#000" stroke-width="1.35"/>
<line x1="263.3" y1="167.4" x2="263.3" y2="164.4" stroke="#000" stroke-width="1.35"/>
<text x="49.8" y="178.3" font-size="9" font-weight="bold" fill="#3a3a3a" stroke="#3a3a3a" stroke-width="0.2" textLength="14.9" lengthAdjust="spacingAndGlyphs">400</text>
<text x="75.6" y="178.3" font-size="9" font-weight="bold" fill="#3a3a3a" stroke="#3a3a3a" stroke-width="0.2" textLength="14.9" lengthAdjust="spacingAndGlyphs">500</text>
<text x="101.3" y="178.3" font-size="9" font-weight="bold" fill="#3a3a3a" stroke="#3a3a3a" stroke-width="0.2" textLength="14.9" lengthAdjust="spacingAndGlyphs">600</text>
<text x="127.1" y="178.3" font-size="9" font-weight="bold" fill="#3a3a3a" stroke="#3a3a3a" stroke-width="0.2" textLength="14.9" lengthAdjust="spacingAndGlyphs">700</text>
<text x="152.8" y="178.3" font-size="9" font-weight="bold" fill="#3a3a3a" stroke="#3a3a3a" stroke-width="0.2" textLength="14.9" lengthAdjust="spacingAndGlyphs">800</text>
<text x="178.6" y="178.3" font-size="9" font-weight="bold" fill="#3a3a3a" stroke="#3a3a3a" stroke-width="0.2" textLength="14.9" lengthAdjust="spacingAndGlyphs">900</text>
<text x="201.8" y="178.3" font-size="9" font-weight="bold" fill="#3a3a3a" stroke="#3a3a3a" stroke-width="0.2" textLength="20.0" lengthAdjust="spacingAndGlyphs">1000</text>
<text x="227.6" y="178.3" font-size="9" font-weight="bold" fill="#3a3a3a" stroke="#3a3a3a" stroke-width="0.2" textLength="20.0" lengthAdjust="spacingAndGlyphs">1100</text>
<text x="253.3" y="178.3" font-size="9" font-weight="bold" fill="#3a3a3a" stroke="#3a3a3a" stroke-width="0.2" textLength="20.0" lengthAdjust="spacingAndGlyphs">1200</text>
<line x1="44.2" y1="142.6" x2="47.6" y2="142.6" stroke="#000" stroke-width="1.35"/>
<text x="35.7" y="145.8" font-size="9" font-weight="bold" fill="#3a3a3a" stroke="#3a3a3a" stroke-width="0.2" textLength="4.9" lengthAdjust="spacingAndGlyphs">5</text>
<line x1="44.2" y1="117.9" x2="47.6" y2="117.9" stroke="#000" stroke-width="1.35"/>
<text x="30.6" y="121.1" font-size="9" font-weight="bold" fill="#3a3a3a" stroke="#3a3a3a" stroke-width="0.2" textLength="10.0" lengthAdjust="spacingAndGlyphs">10</text>
<line x1="44.2" y1="93.2" x2="47.6" y2="93.2" stroke="#000" stroke-width="1.35"/>
<text x="30.6" y="96.4" font-size="9" font-weight="bold" fill="#3a3a3a" stroke="#3a3a3a" stroke-width="0.2" textLength="10.0" lengthAdjust="spacingAndGlyphs">15</text>
<line x1="44.2" y1="68.5" x2="47.6" y2="68.5" stroke="#000" stroke-width="1.35"/>
<text x="30.6" y="71.7" font-size="9" font-weight="bold" fill="#3a3a3a" stroke="#3a3a3a" stroke-width="0.2" textLength="10.0" lengthAdjust="spacingAndGlyphs">20</text>
<line x1="44.2" y1="43.8" x2="47.6" y2="43.8" stroke="#000" stroke-width="1.35"/>
<text x="30.6" y="47.0" font-size="9" font-weight="bold" fill="#3a3a3a" stroke="#3a3a3a" stroke-width="0.2" textLength="10.0" lengthAdjust="spacingAndGlyphs">25</text>
<line x1="44.2" y1="19.1" x2="47.6" y2="19.1" stroke="#000" stroke-width="1.35"/>
<text x="30.6" y="22.3" font-size="9" font-weight="bold" fill="#3a3a3a" stroke="#3a3a3a" stroke-width="0.2" textLength="10.0" lengthAdjust="spacingAndGlyphs">30</text>
<text x="102.9" y="190.5" font-size="13.2" font-weight="bold" fill="#111" textLength="105.0" lengthAdjust="spacingAndGlyphs" stroke="#111" stroke-width="0.3">Wavelength (nm)</text>
<text x="0" y="0" font-size="12.2" font-weight="bold" fill="#111" stroke="#111" stroke-width="0.3" textLength="128.6" lengthAdjust="spacingAndGlyphs" transform="translate(24.6,146.2) scale(1.1,1) rotate(-90)">Responsivity (mA / W)</text>
<text x="57.0" y="147.3" font-size="13" font-weight="bold" fill="#222" textLength="16.8" lengthAdjust="spacingAndGlyphs" >(a)</text>
<text x="218" y="141.8" font-size="10.5" fill="#333" stroke="#333" stroke-width="0.2" textLength="45" lengthAdjust="spacingAndGlyphs">V<tspan font-size="6.8" dy="2.7">Bias</tspan><tspan dy="-2.7">=0 V</tspan></text>
<line x1="142.2" y1="22.6" x2="172.3" y2="22.6" stroke="#000000" stroke-width="2.4" stroke-linecap="round"/>
<text x="175.9" y="26.9" font-size="12.2" font-weight="normal" fill="#262626" textLength="37.7" lengthAdjust="spacingAndGlyphs" stroke="#262626" stroke-width="0.25">SiNHs</text>
<line x1="142.2" y1="38.6" x2="172.3" y2="38.6" stroke="#c3c3c3" stroke-width="2.4" stroke-linecap="round"/>
<text x="175.9" y="42.6" font-size="12.2" font-weight="normal" fill="#262626" textLength="87.0" lengthAdjust="spacingAndGlyphs" stroke="#262626" stroke-width="0.25">AgNWs/SiNHs</text>
<line x1="142.2" y1="54.7" x2="172.3" y2="54.7" stroke="#f5891d" stroke-width="2.4" stroke-linecap="round"/>
<text x="175.9" y="58.2" font-size="12.2" font-weight="normal" fill="#262626" textLength="87.0" lengthAdjust="spacingAndGlyphs" stroke="#262626" stroke-width="0.25">AuNWs/SiNHs</text>
<line x1="142.2" y1="70.3" x2="172.3" y2="70.3" stroke="#11851a" stroke-width="2.4" stroke-linecap="round"/>
<text x="175.9" y="73.9" font-size="12.2" font-weight="normal" fill="#262626" textLength="85.6" lengthAdjust="spacingAndGlyphs" stroke="#262626" stroke-width="0.25">NiNWs/SiNWs</text>
<line x1="142.2" y1="85.6" x2="172.3" y2="85.6" stroke="#0b0be0" stroke-width="2.4" stroke-linecap="round"/>
<text x="175.9" y="89.5" font-size="12.2" font-weight="normal" fill="#262626" textLength="82.2" lengthAdjust="spacingAndGlyphs" stroke="#262626" stroke-width="0.25">PtNWs/SiNHs</text>
<rect x="318.4" y="10.1" width="218.80000000000007" height="155.9" fill="none" stroke="#000" stroke-width="1.5"/>
<line x1="331.0" y1="166.0" x2="331.0" y2="163.0" stroke="#000" stroke-width="1.35"/>
<line x1="356.6" y1="166.0" x2="356.6" y2="164.2" stroke="#000" stroke-width="1.35"/>
<line x1="382.1" y1="166.0" x2="382.1" y2="163.0" stroke="#000" stroke-width="1.35"/>
<line x1="407.7" y1="166.0" x2="407.7" y2="164.2" stroke="#000" stroke-width="1.35"/>
<line x1="433.3" y1="166.0" x2="433.3" y2="163.0" stroke="#000" stroke-width="1.35"/>
<line x1="458.9" y1="166.0" x2="458.9" y2="164.2" stroke="#000" stroke-width="1.35"/>
<line x1="484.4" y1="166.0" x2="484.4" y2="163.0" stroke="#000" stroke-width="1.35"/>
<line x1="510.0" y1="166.0" x2="510.0" y2="164.2" stroke="#000" stroke-width="1.35"/>
<line x1="535.6" y1="166.0" x2="535.6" y2="163.0" stroke="#000" stroke-width="1.35"/>
<text x="322.2" y="177.3" font-size="9.4" font-weight="bold" fill="#1a1a1a" stroke="#1a1a1a" stroke-width="0.2" textLength="17.5" lengthAdjust="spacingAndGlyphs">400</text>
<text x="373.4" y="177.3" font-size="9.4" font-weight="bold" fill="#1a1a1a" stroke="#1a1a1a" stroke-width="0.2" textLength="17.5" lengthAdjust="spacingAndGlyphs">600</text>
<text x="424.5" y="177.3" font-size="9.4" font-weight="bold" fill="#1a1a1a" stroke="#1a1a1a" stroke-width="0.2" textLength="17.5" lengthAdjust="spacingAndGlyphs">800</text>
<text x="472.7" y="177.3" font-size="9.4" font-weight="bold" fill="#1a1a1a" stroke="#1a1a1a" stroke-width="0.2" textLength="23.4" lengthAdjust="spacingAndGlyphs">1000</text>
<text x="523.9" y="177.3" font-size="9.4" font-weight="bold" fill="#1a1a1a" stroke="#1a1a1a" stroke-width="0.2" textLength="23.4" lengthAdjust="spacingAndGlyphs">1200</text>
<line x1="318.4" y1="150.2" x2="320.2" y2="150.2" stroke="#000" stroke-width="1.35"/>
<line x1="318.4" y1="134.7" x2="321.6" y2="134.7" stroke="#000" stroke-width="1.35"/>
<line x1="318.4" y1="119.1" x2="320.2" y2="119.1" stroke="#000" stroke-width="1.35"/>
<line x1="318.4" y1="103.5" x2="321.6" y2="103.5" stroke="#000" stroke-width="1.35"/>
<line x1="318.4" y1="88.0" x2="320.2" y2="88.0" stroke="#000" stroke-width="1.35"/>
<line x1="318.4" y1="72.4" x2="321.6" y2="72.4" stroke="#000" stroke-width="1.35"/>
<line x1="318.4" y1="56.8" x2="320.2" y2="56.8" stroke="#000" stroke-width="1.35"/>
<line x1="318.4" y1="41.2" x2="321.6" y2="41.2" stroke="#000" stroke-width="1.35"/>
<line x1="318.4" y1="25.7" x2="320.2" y2="25.7" stroke="#000" stroke-width="1.35"/>
<text x="309.2" y="169.3" font-size="9.8" font-weight="bold" fill="#1a1a1a" stroke="#1a1a1a" stroke-width="0.2" textLength="5.6" lengthAdjust="spacingAndGlyphs">0</text>
<text x="309.2" y="138.2" font-size="9.8" font-weight="bold" fill="#1a1a1a" stroke="#1a1a1a" stroke-width="0.2" textLength="5.6" lengthAdjust="spacingAndGlyphs">2</text>
<text x="309.2" y="107.0" font-size="9.8" font-weight="bold" fill="#1a1a1a" stroke="#1a1a1a" stroke-width="0.2" textLength="5.6" lengthAdjust="spacingAndGlyphs">4</text>
<text x="309.2" y="75.9" font-size="9.8" font-weight="bold" fill="#1a1a1a" stroke="#1a1a1a" stroke-width="0.2" textLength="5.6" lengthAdjust="spacingAndGlyphs">6</text>
<text x="309.2" y="44.7" font-size="9.8" font-weight="bold" fill="#1a1a1a" stroke="#1a1a1a" stroke-width="0.2" textLength="5.6" lengthAdjust="spacingAndGlyphs">8</text>
<text x="303.3" y="13.6" font-size="9.8" font-weight="bold" fill="#1a1a1a" stroke="#1a1a1a" stroke-width="0.2" textLength="11.5" lengthAdjust="spacingAndGlyphs">10</text>
<text x="367.3" y="191.6" font-size="13.3" font-weight="bold" fill="#111" textLength="120.2" lengthAdjust="spacingAndGlyphs" stroke="#111" stroke-width="0.3">Wavelength (nm)</text>
<text x="0" y="0" font-size="12.9" font-weight="bold" fill="#111" stroke="#111" stroke-width="0.3" textLength="51.1" lengthAdjust="spacingAndGlyphs" transform="translate(297.2,112.9) scale(1.0,1) rotate(-90)">EQE (%)</text>
<text x="330.3" y="146.8" font-size="13" font-weight="bold" fill="#222" textLength="17.7" lengthAdjust="spacingAndGlyphs" >(b)</text>
<text x="482.5" y="137.9" font-size="10.3" fill="#333" stroke="#333" stroke-width="0.2" textLength="48.3" lengthAdjust="spacingAndGlyphs">V<tspan font-size="6.8" dy="2.8">Bias</tspan><tspan dy="-2.8">=0 V</tspan></text>
<line x1="422.2" y1="27.0" x2="449.3" y2="27.0" stroke="#000000" stroke-width="2.4" stroke-linecap="round"/>
<text x="452.6" y="30.0" font-size="10.2" font-weight="normal" fill="#262626" textLength="33.5" lengthAdjust="spacingAndGlyphs" stroke="#262626" stroke-width="0.25">SiNHs</text>
<line x1="422.2" y1="40.0" x2="449.3" y2="40.0" stroke="#c3c3c3" stroke-width="2.4" stroke-linecap="round"/>
<text x="452.6" y="43.5" font-size="10.2" font-weight="normal" fill="#262626" textLength="77.4" lengthAdjust="spacingAndGlyphs" stroke="#262626" stroke-width="0.25">AgNWs/SiNHs</text>
<line x1="422.2" y1="53.0" x2="449.3" y2="53.0" stroke="#f5891d" stroke-width="2.4" stroke-linecap="round"/>
<text x="452.6" y="56.3" font-size="10.2" font-weight="normal" fill="#262626" textLength="77.4" lengthAdjust="spacingAndGlyphs" stroke="#262626" stroke-width="0.25">AuNWs/SiNHs</text>
<line x1="422.2" y1="66.0" x2="449.3" y2="66.0" stroke="#11851a" stroke-width="2.4" stroke-linecap="round"/>
<text x="452.6" y="69.0" font-size="10.2" font-weight="normal" fill="#262626" textLength="73.9" lengthAdjust="spacingAndGlyphs" stroke="#262626" stroke-width="0.25">NiNWs/SiNHs</text>
<line x1="422.2" y1="79.0" x2="449.3" y2="79.0" stroke="#0b0be0" stroke-width="2.4" stroke-linecap="round"/>
<text x="452.6" y="81.8" font-size="10.2" font-weight="normal" fill="#262626" textLength="73.9" lengthAdjust="spacingAndGlyphs" stroke="#262626" stroke-width="0.25">PtNWs/SiNHs</text>
<rect x="45" y="204.9" width="219.3" height="156.4" fill="none" stroke="#000" stroke-width="1.5"/>
<line x1="57.8" y1="361.3" x2="57.8" y2="363.9" stroke="#000" stroke-width="1.4"/>
<line x1="83.3" y1="361.3" x2="83.3" y2="362.8" stroke="#000" stroke-width="1.4"/>
<line x1="108.8" y1="361.3" x2="108.8" y2="363.9" stroke="#000" stroke-width="1.4"/>
<line x1="134.2" y1="361.3" x2="134.2" y2="362.8" stroke="#000" stroke-width="1.4"/>
<line x1="159.7" y1="361.3" x2="159.7" y2="363.9" stroke="#000" stroke-width="1.4"/>
<line x1="185.2" y1="361.3" x2="185.2" y2="362.8" stroke="#000" stroke-width="1.4"/>
<line x1="210.7" y1="361.3" x2="210.7" y2="363.9" stroke="#000" stroke-width="1.4"/>
<line x1="236.2" y1="361.3" x2="236.2" y2="362.8" stroke="#000" stroke-width="1.4"/>
<line x1="261.6" y1="361.3" x2="261.6" y2="363.9" stroke="#000" stroke-width="1.4"/>
<text x="49.1" y="373.6" font-size="10.3" font-weight="bold" fill="#1a1a1a" stroke="#1a1a1a" stroke-width="0.2" textLength="17.3" lengthAdjust="spacingAndGlyphs">400</text>
<text x="100.1" y="373.6" font-size="10.3" font-weight="bold" fill="#1a1a1a" stroke="#1a1a1a" stroke-width="0.2" textLength="17.3" lengthAdjust="spacingAndGlyphs">600</text>
<text x="151.0" y="373.6" font-size="10.3" font-weight="bold" fill="#1a1a1a" stroke="#1a1a1a" stroke-width="0.2" textLength="17.3" lengthAdjust="spacingAndGlyphs">800</text>
<text x="199.1" y="373.6" font-size="10.3" font-weight="bold" fill="#1a1a1a" stroke="#1a1a1a" stroke-width="0.2" textLength="23.2" lengthAdjust="spacingAndGlyphs">1000</text>
<text x="250.0" y="373.6" font-size="10.3" font-weight="bold" fill="#1a1a1a" stroke="#1a1a1a" stroke-width="0.2" textLength="23.2" lengthAdjust="spacingAndGlyphs">1200</text>
<line x1="45.0" y1="360.6" x2="48.5" y2="360.6" stroke="#000" stroke-width="1.4"/>
<line x1="45.0" y1="341.3" x2="46.5" y2="341.3" stroke="#000" stroke-width="1.1"/>
<line x1="45.0" y1="330.0" x2="46.5" y2="330.0" stroke="#000" stroke-width="1.1"/>
<line x1="45.0" y1="322.0" x2="46.5" y2="322.0" stroke="#000" stroke-width="1.1"/>
<line x1="45.0" y1="315.8" x2="46.5" y2="315.8" stroke="#000" stroke-width="1.1"/>
<line x1="45.0" y1="310.7" x2="46.5" y2="310.7" stroke="#000" stroke-width="1.1"/>
<line x1="45.0" y1="306.4" x2="46.5" y2="306.4" stroke="#000" stroke-width="1.1"/>
<line x1="45.0" y1="302.7" x2="46.5" y2="302.7" stroke="#000" stroke-width="1.1"/>
<line x1="45.0" y1="299.4" x2="46.5" y2="299.4" stroke="#000" stroke-width="1.1"/>
<line x1="45.0" y1="296.5" x2="48.5" y2="296.5" stroke="#000" stroke-width="1.4"/>
<line x1="45.0" y1="277.2" x2="46.5" y2="277.2" stroke="#000" stroke-width="1.1"/>
<line x1="45.0" y1="265.9" x2="46.5" y2="265.9" stroke="#000" stroke-width="1.1"/>
<line x1="45.0" y1="257.9" x2="46.5" y2="257.9" stroke="#000" stroke-width="1.1"/>
<line x1="45.0" y1="251.7" x2="46.5" y2="251.7" stroke="#000" stroke-width="1.1"/>
<line x1="45.0" y1="246.6" x2="46.5" y2="246.6" stroke="#000" stroke-width="1.1"/>
<line x1="45.0" y1="242.3" x2="46.5" y2="242.3" stroke="#000" stroke-width="1.1"/>
<line x1="45.0" y1="238.6" x2="46.5" y2="238.6" stroke="#000" stroke-width="1.1"/>
<line x1="45.0" y1="235.3" x2="46.5" y2="235.3" stroke="#000" stroke-width="1.1"/>
<line x1="45.0" y1="232.4" x2="48.5" y2="232.4" stroke="#000" stroke-width="1.4"/>
<line x1="45.0" y1="213.1" x2="46.5" y2="213.1" stroke="#000" stroke-width="1.1"/>
<text x="21.3" y="235.8" font-size="10" font-weight="bold" fill="#1a1a1a" stroke="#1a1a1a" stroke-width="0.25">10<tspan font-size="7" dx="0.9" dy="-3.6">11</tspan></text>
<text x="22.4" y="299.9" font-size="10" font-weight="bold" fill="#1a1a1a" stroke="#1a1a1a" stroke-width="0.25">10<tspan font-size="7" dx="0.9" dy="-3.6">10</tspan></text>
<text x="25.2" y="364.0" font-size="10" font-weight="bold" fill="#1a1a1a" stroke="#1a1a1a" stroke-width="0.25">10<tspan font-size="7" dx="0.9" dy="-3.6">9</tspan></text>
<text x="106.6" y="387.5" font-size="13.3" font-weight="bold" fill="#111" textLength="120.1" lengthAdjust="spacingAndGlyphs" stroke="#111" stroke-width="0.3">Wavelength (nm)</text>
<text x="0" y="0" font-size="13" font-weight="bold" fill="#111" stroke="#111" stroke-width="0.3" textLength="116.4" lengthAdjust="spacingAndGlyphs" transform="translate(16.3,334.9) scale(1.1,1) rotate(-90)">Detectivity (Jones)</text>
<text x="199.1" y="345.9" font-size="13" font-weight="bold" fill="#222" textLength="15.2" lengthAdjust="spacingAndGlyphs" >(c)</text>
<text x="208.8" y="216.7" font-size="10.4" fill="#333" stroke="#333" stroke-width="0.2" textLength="48.7" lengthAdjust="spacingAndGlyphs">V<tspan font-size="7.4" dy="3">Bias</tspan><tspan dy="-3">=0 V</tspan></text>
<line x1="66.6" y1="288.7" x2="92.4" y2="288.7" stroke="#000000" stroke-width="2.4" stroke-linecap="round"/>
<text x="94.6" y="291.5" font-size="10.2" font-weight="normal" fill="#262626" textLength="32.0" lengthAdjust="spacingAndGlyphs" stroke="#262626" stroke-width="0.25">SiNHs</text>
<line x1="66.6" y1="300.7" x2="92.4" y2="300.7" stroke="#c3c3c3" stroke-width="2.4" stroke-linecap="round"/>
<text x="94.6" y="303.9" font-size="10.2" font-weight="normal" fill="#262626" textLength="73.1" lengthAdjust="spacingAndGlyphs" stroke="#262626" stroke-width="0.25">AgNWs/SiNHs</text>
<line x1="66.6" y1="313.2" x2="92.4" y2="313.2" stroke="#f5891d" stroke-width="2.4" stroke-linecap="round"/>
<text x="94.6" y="316.1" font-size="10.2" font-weight="normal" fill="#262626" textLength="73.1" lengthAdjust="spacingAndGlyphs" stroke="#262626" stroke-width="0.25">AuNWs/SiNHs</text>
<line x1="66.6" y1="325.4" x2="92.4" y2="325.4" stroke="#11851a" stroke-width="2.4" stroke-linecap="round"/>
<text x="94.6" y="328.2" font-size="10.2" font-weight="normal" fill="#262626" textLength="69.5" lengthAdjust="spacingAndGlyphs" stroke="#262626" stroke-width="0.25">NiNWs/SiNHs</text>
<line x1="66.6" y1="337.8" x2="92.4" y2="337.8" stroke="#0b0be0" stroke-width="2.4" stroke-linecap="round"/>
<text x="94.6" y="340.3" font-size="10.2" font-weight="normal" fill="#262626" textLength="69.5" lengthAdjust="spacingAndGlyphs" stroke="#262626" stroke-width="0.25">PtNWs/SiNHs</text>
<rect x="320.4" y="206.9" width="218.20000000000005" height="157.1" fill="none" stroke="#000" stroke-width="1.5"/>
<line x1="333.5" y1="364.0" x2="333.5" y2="361.0" stroke="#000" stroke-width="1.35"/>
<line x1="359.2" y1="364.0" x2="359.2" y2="362.2" stroke="#000" stroke-width="1.35"/>
<line x1="384.9" y1="364.0" x2="384.9" y2="361.0" stroke="#000" stroke-width="1.35"/>
<line x1="410.6" y1="364.0" x2="410.6" y2="362.2" stroke="#000" stroke-width="1.35"/>
<line x1="436.3" y1="364.0" x2="436.3" y2="361.0" stroke="#000" stroke-width="1.35"/>
<line x1="462.1" y1="364.0" x2="462.1" y2="362.2" stroke="#000" stroke-width="1.35"/>
<line x1="487.8" y1="364.0" x2="487.8" y2="361.0" stroke="#000" stroke-width="1.35"/>
<line x1="513.5" y1="364.0" x2="513.5" y2="362.2" stroke="#000" stroke-width="1.35"/>
<line x1="539.2" y1="364.0" x2="539.2" y2="361.0" stroke="#000" stroke-width="1.35"/>
<text x="324.8" y="375.1" font-size="10.3" font-weight="bold" fill="#1a1a1a" stroke="#1a1a1a" stroke-width="0.2" textLength="17.3" lengthAdjust="spacingAndGlyphs">400</text>
<text x="376.2" y="375.1" font-size="10.3" font-weight="bold" fill="#1a1a1a" stroke="#1a1a1a" stroke-width="0.2" textLength="17.3" lengthAdjust="spacingAndGlyphs">600</text>
<text x="427.7" y="375.1" font-size="10.3" font-weight="bold" fill="#1a1a1a" stroke="#1a1a1a" stroke-width="0.2" textLength="17.3" lengthAdjust="spacingAndGlyphs">800</text>
<text x="476.2" y="375.1" font-size="10.3" font-weight="bold" fill="#1a1a1a" stroke="#1a1a1a" stroke-width="0.2" textLength="23.2" lengthAdjust="spacingAndGlyphs">1000</text>
<text x="526.7" y="375.1" font-size="10.3" font-weight="bold" fill="#1a1a1a" stroke="#1a1a1a" stroke-width="0.2" textLength="17.5" lengthAdjust="spacingAndGlyphs">120</text>
<line x1="320.4" y1="363.6" x2="323.9" y2="363.6" stroke="#000" stroke-width="1.4"/>
<line x1="320.4" y1="345.4" x2="321.9" y2="345.4" stroke="#000" stroke-width="1.1"/>
<line x1="320.4" y1="334.8" x2="321.9" y2="334.8" stroke="#000" stroke-width="1.1"/>
<line x1="320.4" y1="327.3" x2="321.9" y2="327.3" stroke="#000" stroke-width="1.1"/>
<line x1="320.4" y1="321.5" x2="321.9" y2="321.5" stroke="#000" stroke-width="1.1"/>
<line x1="320.4" y1="316.7" x2="321.9" y2="316.7" stroke="#000" stroke-width="1.1"/>
<line x1="320.4" y1="312.6" x2="321.9" y2="312.6" stroke="#000" stroke-width="1.1"/>
<line x1="320.4" y1="309.1" x2="321.9" y2="309.1" stroke="#000" stroke-width="1.1"/>
<line x1="320.4" y1="306.1" x2="321.9" y2="306.1" stroke="#000" stroke-width="1.1"/>
<line x1="320.4" y1="303.3" x2="323.9" y2="303.3" stroke="#000" stroke-width="1.4"/>
<line x1="320.4" y1="285.1" x2="321.9" y2="285.1" stroke="#000" stroke-width="1.1"/>
<line x1="320.4" y1="274.5" x2="321.9" y2="274.5" stroke="#000" stroke-width="1.1"/>
<line x1="320.4" y1="267.0" x2="321.9" y2="267.0" stroke="#000" stroke-width="1.1"/>
<line x1="320.4" y1="261.2" x2="321.9" y2="261.2" stroke="#000" stroke-width="1.1"/>
<line x1="320.4" y1="256.4" x2="321.9" y2="256.4" stroke="#000" stroke-width="1.1"/>
<line x1="320.4" y1="252.3" x2="321.9" y2="252.3" stroke="#000" stroke-width="1.1"/>
<line x1="320.4" y1="248.8" x2="321.9" y2="248.8" stroke="#000" stroke-width="1.1"/>
<line x1="320.4" y1="245.8" x2="321.9" y2="245.8" stroke="#000" stroke-width="1.1"/>
<line x1="320.4" y1="243.0" x2="323.9" y2="243.0" stroke="#000" stroke-width="1.4"/>
<line x1="320.4" y1="224.8" x2="321.9" y2="224.8" stroke="#000" stroke-width="1.1"/>
<line x1="320.4" y1="214.2" x2="321.9" y2="214.2" stroke="#000" stroke-width="1.1"/>
<text x="294.6" y="246.5" font-size="10" font-weight="bold" fill="#1a1a1a" stroke="#1a1a1a" stroke-width="0.25">10<tspan font-size="7.2" dy="-4">-10</tspan></text>
<text x="294.6" y="306.8" font-size="10" font-weight="bold" fill="#1a1a1a" stroke="#1a1a1a" stroke-width="0.25">10<tspan font-size="7.2" dy="-4">-11</tspan></text>
<text x="294.6" y="367.1" font-size="10" font-weight="bold" fill="#1a1a1a" stroke="#1a1a1a" stroke-width="0.25">10<tspan font-size="7.2" dy="-4">-12</tspan></text>
<text x="375.6" y="391.2" font-size="13.3" font-weight="bold" fill="#111" textLength="118.8" lengthAdjust="spacingAndGlyphs" stroke="#111" stroke-width="0.3">Wavelength (nm)</text>
<text x="0" y="0" font-size="12.8" font-weight="bold" fill="#111" stroke="#111" stroke-width="0.3" textLength="86.3" lengthAdjust="spacingAndGlyphs" transform="translate(288,327.2) scale(1.05,1) rotate(-90)">NEP (W Hz<tspan font-size="8.6" dy="-4.6">-1/2</tspan><tspan dy="4.6">)</tspan></text>
<text x="348.1" y="351.2" font-size="13" font-weight="bold" fill="#222" textLength="18.0" lengthAdjust="spacingAndGlyphs" >(d)</text>
<text x="480.6" y="351.4" font-size="10" fill="#333" stroke="#333" stroke-width="0.2" textLength="51.7" lengthAdjust="spacingAndGlyphs">V<tspan font-size="7.2" dy="2.7">Bias</tspan><tspan dy="-2.7">= 0 V</tspan></text>
<line x1="328.8" y1="218.5" x2="357.4" y2="218.5" stroke="#000000" stroke-width="2.4" stroke-linecap="round"/>
<text x="360.9" y="222.5" font-size="11.8" font-weight="normal" fill="#262626" textLength="35.0" lengthAdjust="spacingAndGlyphs" stroke="#262626" stroke-width="0.25">SiNHs</text>
<line x1="328.8" y1="232.9" x2="357.4" y2="232.9" stroke="#c3c3c3" stroke-width="2.4" stroke-linecap="round"/>
<text x="360.9" y="236.4" font-size="11.8" font-weight="normal" fill="#262626" textLength="81.3" lengthAdjust="spacingAndGlyphs" stroke="#262626" stroke-width="0.25">AgNWs/SiNHs</text>
<line x1="328.8" y1="246.4" x2="357.4" y2="246.4" stroke="#f5891d" stroke-width="2.4" stroke-linecap="round"/>
<text x="360.9" y="249.8" font-size="11.8" font-weight="normal" fill="#262626" textLength="81.3" lengthAdjust="spacingAndGlyphs" stroke="#262626" stroke-width="0.25">AuNWs/SiNHs</text>
<line x1="328.8" y1="260.1" x2="357.4" y2="260.1" stroke="#11851a" stroke-width="2.4" stroke-linecap="round"/>
<text x="360.9" y="263.4" font-size="11.8" font-weight="normal" fill="#262626" textLength="77.2" lengthAdjust="spacingAndGlyphs" stroke="#262626" stroke-width="0.25">NiNWs/SiNHs</text>
<line x1="328.8" y1="274.0" x2="357.4" y2="274.0" stroke="#0b0be0" stroke-width="2.4" stroke-linecap="round"/>
<text x="360.9" y="277.2" font-size="11.8" font-weight="normal" fill="#262626" textLength="77.2" lengthAdjust="spacingAndGlyphs" stroke="#262626" stroke-width="0.25">PtNWs/SiNHs</text>
</svg>
</body></html>
